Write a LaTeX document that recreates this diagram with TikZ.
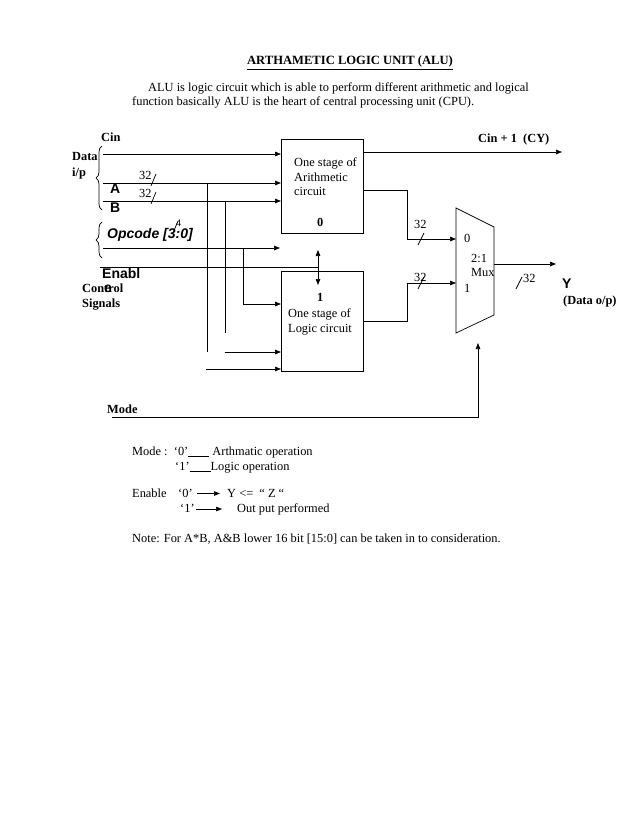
\documentclass[tikz,border=0pt]{standalone}
\usepackage{fontspec}
\setmainfont{Liberation Serif}
\newfontfamily\arial{Liberation Sans}
\usetikzlibrary{arrows.meta,decorations.pathreplacing}
\begin{document}
\begin{tikzpicture}[x=1pt,y=-1pt,
  wire/.style={line width=0.7pt},
  arr/.style={wire,-{Triangle[length=6pt,width=4.5pt]}},
  darr/.style={wire,{Triangle[length=6pt,width=4.5pt]}-{Triangle[length=6pt,width=4.5pt]}},
  txt/.style={inner sep=0,anchor=base west,font=\fontsize{12.4}{14}\selectfont},
  btxt/.style={inner sep=0,anchor=base west,font=\fontsize{12.4}{14}\selectfont\bfseries},
  stxt/.style={inner sep=0,anchor=base west,font=\fontsize{14}{16}\selectfont\arial\bfseries},
  blk/.style={draw,wire,inner sep=0,anchor=north west},
  brc/.style={wire,decorate,decoration={brace,amplitude=6pt}}
]
\useasboundingbox[fill=white] (0,0) rectangle (638,826);

% title and intro
\node[inner sep=0,anchor=base,font=\fontsize{12.6}{14}\selectfont\bfseries] (title) at (350,65) {\underline{ARTHAMETIC LOGIC UNIT (ALU)}};
\node[txt] (p1) at (148,92) {ALU is logic circuit which is able to perform different arithmetic and logical};
\node[txt] (p2) at (132,106) {function basically ALU is the heart of central processing unit (CPU).};

% blocks
\node[blk,minimum width=82,minimum height=94] (arith) at (281,139) {};
\node[blk,minimum width=82,minimum height=100] (logic) at (281,271) {};
\coordinate (m1) at (456,208);
\coordinate (m2) at (494,227);
\coordinate (m3) at (494,315);
\coordinate (m4) at (456,333);
\draw[wire] (m1) -- (m2) -- (m3) -- (m4) -- cycle;

% block texts
\node[txt] (a1) at (294,167) {One stage of};
\node[txt] (a2) at (294,182) {Arithmetic};
\node[txt] (a3) at (294,196) {circuit};
\node[btxt] (a0) at (317,226) {0};
\node[btxt] (l0) at (317,301) {1};
\node[txt] (l1) at (288,317) {One stage of};
\node[txt] (l2) at (288,332) {Logic circuit};
\node[txt] (mx0) at (464,242) {0};
\node[txt] (mx1) at (471,262) {2:1};
\node[txt] (mx2) at (471,276) {Mux};
\node[txt] (mx3) at (464,292) {1};

% left labels
\node[btxt] (cin) at (101,142) {Cin};
\node[btxt] (data) at (72,161) {Data};
\node[btxt] (ip) at (72,177) {i/p};
\node[stxt] (la) at (110,194) {A};
\node[stxt] (lb) at (110,213) {B};
\node[txt] (n32a) at (139,180) {32};
\node[txt] (n32b) at (139,198) {32};
\node[inner sep=0,anchor=base west,font=\fontsize{14}{16}\selectfont\arial\bfseries\itshape] (opc) at (107,238) {Opcode [3:0]};
\node[txt,font=\fontsize{10}{11}\selectfont] (n4) at (176,226) {4};
\node[stxt] (enab) at (102,278) {Enabl};
\node[btxt] (ctrl) at (82,292) {Control};
\node[stxt] (enab2) at (104,292) {e};
\node[btxt] (sig) at (82,307) {Signals};
\node[btxt] (mode) at (107,413) {Mode};

% right labels
\node[btxt] (cin1) at (478,143) {Cin + 1\ \ (CY)};
\node[txt] (n32c) at (414,229) {32};
\node[txt] (n32d) at (414,281) {32};
\node[txt] (n32e) at (523,282) {32};
\node[stxt] (yout) at (562,288) {Y};
\node[btxt] (dop) at (563,304) {(Data o/p)};

% braces
\draw[brc] (102,210) -- (102,146);
\draw[brc] (102,258) -- (102,222);

% input wires
\coordinate (cinS) at (103,154);
\coordinate (aS) at (103,183);
\coordinate (bS) at (103,201);
\coordinate (opS) at (103,248);
\coordinate (opE) at (280,248);
\coordinate (enS) at (100,267);
\coordinate (enE) at (318,267);
\draw[arr] (cinS) -- (cinS -| arith.west);
\draw[arr] (aS) -- (aS -| arith.west);
\draw[arr] (bS) -- (bS -| arith.west);
\draw[arr] (opS) -- (opE);
\draw[wire] (enS) -- (enE);
\coordinate (dU) at (318,250);
\coordinate (dD) at (318,285);
\draw[darr] (dU) -- (dD);

% branches to logic block
\coordinate (brO) at (243,248);
\coordinate (brOd) at (243,304);
\draw[arr] (brO) -- (brOd) -- (brOd -| logic.west);
\coordinate (vA1) at (207,183);
\coordinate (vA2) at (207,352);
\draw[wire] (vA1) -- (vA2);
\coordinate (vB1) at (225,201);
\coordinate (vB2) at (225,333);
\draw[wire] (vB1) -- (vB2);
\coordinate (hB) at (225,352);
\draw[arr] (hB) -- (hB -| logic.west);
\coordinate (hA) at (206,369);
\draw[arr] (hA) -- (hA -| logic.west);

% bus slashes
\draw[wire] (151,186) -- (156,174);
\draw[wire] (151,204) -- (156,192);
\draw[wire] (173,233) -- (178,221);
\draw[wire] (418,245) -- (424,233);
\draw[wire] (418,289) -- (424,277);
\draw[wire] (516,289) -- (522,277);

% outputs
\coordinate (aO) at (363,190);
\coordinate (aM) at (407,239);
\draw[arr] (aO) -| (aM) -- (aM -| m1);
\coordinate (lO) at (363,321);
\coordinate (lM) at (407,283);
\draw[arr] (lO) -| (lM) -- (lM -| m1);
\coordinate (cO) at (363,152);
\coordinate (cE) at (562,152);
\draw[arr] (cO) -- (cE);
\coordinate (mO) at (494,264);
\coordinate (mE) at (556,264);
\draw[arr] (mO) -- (mE);
\coordinate (mdS) at (112,417);
\coordinate (mdE) at (478,343);
\draw[arr] (mdS) -| (mdE);

% notes
\node[txt] (nm) at (132,455) {Mode :\ \ `0'\rule[-1pt]{21pt}{0.5pt} Arthmatic operation};
\node[txt] (nl) at (175,470) {`1'\rule[-1pt]{21pt}{0.5pt}Logic operation};
\node[txt] (ne) at (132,497) {Enable};
\node[txt] (ne0) at (178,497) {`0'};
\node[txt] (ney) at (227,497) {Y <=\ \ `` Z ``};
\node[txt] (ne1) at (180,512) {`1'};
\node[txt] (nep) at (237,512) {Out put performed};
\draw[arr] ([xshift=4pt,yshift=3.5pt]ne0.base east) -- ([xshift=-7pt,yshift=3.5pt]ney.base west);
\draw[arr] ([xshift=1pt,yshift=3pt]ne1.base east) -- ([xshift=-15pt,yshift=3pt]nep.base west);
\node[txt] (note) at (132,542) {Note: For A*B, A\&B lower 16 bit [15:0] can be taken in to consideration.};
\end{tikzpicture}
\end{document}
